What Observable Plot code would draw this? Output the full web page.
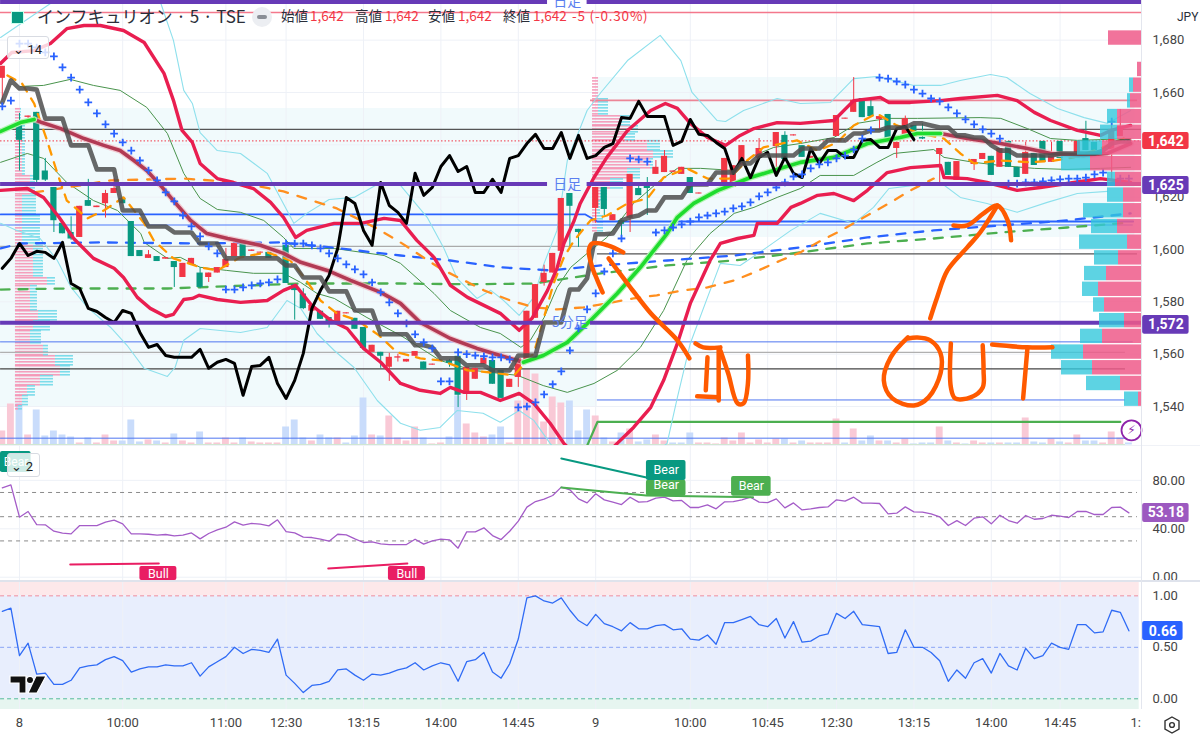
<!DOCTYPE html>
<html><head><meta charset="utf-8">
<script src="https://cdn.jsdelivr.net/npm/d3@7"></script>
<script src="https://cdn.jsdelivr.net/npm/@observablehq/plot@0.6"></script>
<style>
html,body{margin:0;padding:0;background:#fff;width:1200px;height:736px;overflow:hidden}
#wrap{position:relative;width:1200px;height:736px;font-family:"Noto Sans CJK JP",Roboto,sans-serif}
#wrap svg{display:block}
.t{position:absolute;white-space:nowrap;line-height:1}
.badge{position:absolute;background:rgba(255,255,255,.8);border:1px solid #d8dbe2;border-radius:3px;font:13px Roboto;color:#222;box-sizing:border-box;text-align:right;padding:5px 6px 0 0}
</style></head><body><div id="wrap"></div>
<script>
// ---- tick labels
const timeTicks=[0,12,24,31,40,49,58,67,78,87,95,104,113,121,129.8];
const timeLabels=["8","10:00","11:00","12:30","13:15","14:00","14:45","9","10:00","10:45","12:30","13:15","14:00","14:45","1:"];
const priceGrid=[1680,1660,1640,1620,1600,1580,1560,1540];
const priceTicks=[1680,1660,1620,1600,1580,1560,1540];

// ---- candles: [bar, open, close, high, low]
const candles=[[-2,1665.4,1670,1670,1657],[0,1647.8,1641.7,1652,1630],[1,1650.5,1651,1651,1649],[2,1652.4,1626.4,1652.4,1625],[3,1630,1626.5,1634.8,1626],[4,1623.7,1611,1623.7,1606.5],[5,1610,1606],[6,1606.5,1604,1612.5,1603.5],[7,1604.6,1616.5],[8,1618.7,1616.5,1626.8,1616.5],[9,1616,1616.6],[10,1617.5,1621.4,1622.6,1612],[11,1621.4,1623.3,1627,1621.4],[12,1619.5,1617.5,1620,1617.5],[13,1610.7,1597.3],[14,1599.6,1597.3],[15,1596.6,1598,1599.6,1596.6],[16,1597.3,1595.4],[17,1596.3,1596.9],[18,1595.4,1593.1,1595.4,1585.5],[19,1589.3,1594.7],[20,1594.3,1596.6],[21,1591,1585.5,1593,1585],[22,1589.3,1591,1591,1587.4],[23,1591,1593.1],[24,1593.1,1596.2,1600.4,1593.1],[25,1597.3,1602.3],[26,1602.3,1597.3],[27,1599.3,1599.8],[28,1598.6,1599],[29,1598.9,1596.6],[31,1601.5,1587],[32,1586.6,1584.3,1586.6,1573],[33,1583,1577.4,1585,1577],[34,1576.4,1578.6],[35,1576.4,1573.3],[36,1574,1571.8,1574,1570],[37,1572.1,1576.4],[38,1575.4,1575.8],[39,1573.7,1569.5],[40,1570.2,1562.2],[41,1560.7,1563.4],[42,1560.7,1559.2,1560.7,1554.6],[43,1555,1558.8,1560.3,1549.6],[44,1558.5,1559,1560,1557],[45,1557,1558],[46,1559.2,1561],[47,1557,1554],[48,1555.8,1556.2],[50,1557.5,1556.5,1558,1555],[51,1559.2,1544.3,1559.2,1539.6],[52,1545,1555,1555,1542.3],[53,1550.4,1554.6],[54,1556.1,1558.4],[55,1557.6,1548.5],[56,1553.8,1543.1],[57,1547.3,1550.4],[58,1551.1,1558.4,1558.4,1547.3],[59,1556.5,1576.4],[60,1573.7,1586.6],[61,1587.4,1590.9,1594,1586],[62,1591,1598.5],[63,1599.3,1619.5],[64,1621.4,1616.5,1621.4,1600.8],[65,1607.7,1606.5,1607.7,1600.8],[67,1615.7,1623.7,1623.7,1610],[68,1623.7,1615.3,1623.7,1613],[69,1611,1613.3],[70,1611,1609.6,1611,1603.5],[71,1611.9,1628.7,1628.7,1606.5],[72,1623.3,1620.6,1625,1620.6],[73,1625.6,1623.3,1627.5,1613],[74,1628.7,1631.4,1634,1628.7],[75,1629.4,1635.6,1637.8,1629.4],[76,1629.5,1630],[77,1628.7,1631.4],[78,1627.5,1621.4],[79,1621.2,1621.6],[81,1621.2,1621.6],[82,1625.2,1634.8,1634.8,1622.6],[83,1623.7,1632],[84,1632,1639.7],[86,1634.8,1638.6,1642.4,1634.8],[88,1639.3,1644.7,1644.7,1628.3],[89,1643.6,1634.4,1645,1634.4],[90,1643.4,1643.8],[91,1639.7,1635.2],[92,1634,1635.6],[95,1643.2,1651.2],[96,1649.8,1650.2],[97,1652.4,1657,1665.7,1652.4],[98,1657.7,1650.4],[99,1654.6,1650.8,1657.7,1650.8],[100,1649.7,1650.8,1650.8,1646],[101,1651.6,1640.9],[102,1638.6,1640.9,1640.9,1634.8],[103,1642.4,1650,1651,1642.4],[104,1647.4,1644.7,1647.4,1641],[105,1642.8,1642.2,1648,1642],[107,1636.3,1638.6,1638.6,1625.2],[108,1633.3,1628.3],[109,1626.4,1633.6],[111,1632.5,1634.4,1634.4,1630.2],[112,1634.4,1636.7],[113,1635.6,1628.3],[114,1631.4,1638.6],[115,1641.3,1631.4],[116,1631.4,1627.5],[117,1628.7,1637.1,1641,1628.7],[118,1636.7,1632.1],[119,1641.3,1633.3],[120,1633.3,1637.1,1641,1633.3],[121,1641.3,1634.8],[123,1634.8,1641.3],[124,1642.4,1637.8,1649,1637.8],[125,1640.9,1637.8],[127,1638.2,1645.9,1649.7,1626.4],[128,1643.2,1647,1653.5,1643.2],[129,1641.8,1642.2]];

// ---- signed volume from bar -2: positive = up bar, negative = down bar
const volume=[14,41,-41,10,-35,-9,-14,-10,-8,2,-7,2,10,4,-4,-25,-3,5,-4,2,-11,4,2,-13,2,2,7,2,-7,3,2,2,2,-18,-25,-7,4,-10,-7,7,-2,-9,-47,10,-9,29,7,4,18,-7,1,2,-8,-49,21,12,8,-10,-18,2,44,76,71,23,48,42,-44,-14,-35,29,-7,3,-12,16,-3,-5,10,4,-2,-2,-12,2,2,1,7,4,12,2,5,2,6,-6,2,-4,2,2,2,26,-2,16,-4,-9,4,-4,2,6,-1,-2,-2,18,-4,2,-1,4,2,-2,2,-2,-2,27,-3,-2,6,-3,2,10,-4,-4,2,13,7,-2];

// ---- bar-by-bar overlays, from bar -2
const blackLine=[1592.8,1596.6,1602.3,1597.7,1599.3,1598.9,1596.6,1602.7,1587,1585.1,1577.5,1576.3,1574,1572.1,1576.7,1575.6,1568.3,1562.6,1563.7,1559.5,1558.8,1558.8,1558.8,1561.8,1554.6,1556.9,1558,1556.5,1544.3,1555.3,1555.7,1558.8,1548.8,1543.1,1550,1560.3,1577.5,1584.4,1590.1,1600.4,1619.9,1617.6,1607.3,1601.6,1625.6,1616.8,1614.2,1610,1629.1,1620.7,1623.7,1631.7,1635.9,1629.8,1631.7,1621.8,1621.8,1626.8,1621.8,1634.8,1635.9,1640.5,1644,1638.6,1638.6,1644.7,1634.8,1643.6,1634.8,1635.9,1639,1640.5,1650.4,1650.1,1656.6,1650.8,1650.8,1650.8,1639.8,1641.3,1649.7,1644,1643.6,1640.9,1638.6,1629.1,1634.8,1627.5,1635.2,1637.1,1628.3,1635.2,1629.1,1627.5,1638.6,1632.9,1637.8,1637.8,1635.2,1635.2,1641.7,1642,1639,1639,1646.2,1647,1642];
const greyStep=[1656.2,1664.6,1661.5,1661.5,1661.1,1650,1650,1650,1639.8,1639.8,1639.8,1630.6,1630.6,1630.6,1614.9,1614.9,1614.9,1608.8,1608.8,1608.8,1606.5,1606.5,1606.5,1602.3,1602.3,1602.3,1596.6,1596.6,1596.6,1596.6,1596.6,1596.6,1596.6,1593.9,1593.9,1589.3,1589.3,1589.3,1584,1584,1584,1576.7,1576.7,1576.7,1567.6,1567.6,1567.6,1567.6,1563.4,1563.4,1562.6,1558.4,1558.4,1558.4,1555.7,1555.7,1555.7,1553.8,1553.8,1553.8,1559.5,1559.5,1559.5,1572.1,1572.1,1572.1,1584.7,1584.7,1589,1605.8,1605.8,1606.1,1611.1,1612.3,1613,1614.9,1614.9,1619.9,1619.9,1619.9,1624.9,1624.9,1624.9,1629.4,1629.4,1629.4,1632.9,1632.9,1635.9,1635.9,1635.9,1635.9,1635.9,1638.6,1638.6,1638.6,1641.7,1641.7,1641.7,1644.3,1644.3,1645.5,1645.5,1646.6,1646.6,1646.6,1648.2,1648.2,1647.4,1646.6,1646.6,1643.6,1643.6,1642.8,1642.8,1639.8,1637.8,1637.8,1635.9,1635.9,1635.9,1635.9,1635.9,1636.7,1636.7,1636.7,1636.7,1636.7,1637.8,1640.5,1641.3,1641.3];
const sar=[1654.7,1656.9,1678.7,1678.7,1677.2,1675.3,1673.8,1669.6,1665.7,1661.1,1656.2,1652,1647.8,1644.3,1640.9,1637.8,1634,1630.2,1626.4,1621.8,1618.4,1613,1608.8,1605,1601.2,1598.5,1584.7,1584.7,1585.5,1586.3,1587,1587.4,1588.6,1602.3,1602.3,1602.3,1601.6,1600.4,1598.5,1596.6,1594.3,1592.4,1590.5,1587.4,1583.6,1579.8,1575.6,1571.8,1567.6,1564.5,1562.2,1549.6,1549.6,1560.7,1560,1559.5,1559.2,1558.8,1558.8,1558,1539.7,1540,1541.6,1544.6,1548.5,1553.4,1561.4,1569.8,1577.1,1583.2,1591.6,1598.5,1604.2,1634.8,1634.4,1633.6,1606.5,1607.3,1608.4,1609.6,1610.7,1612.3,1613,1613.8,1614.5,1615.7,1616.5,1618,1620.3,1621.8,1623.7,1625.6,1627.9,1628.7,1631,1632.5,1633.3,1634.8,1635.9,1638.2,1642.4,1645.5,1665.7,1665.3,1664.2,1663,1661.1,1659.6,1657.7,1656.6,1654.3,1652,1649.7,1647.8,1645.9,1644.3,1642.4,1625.2,1625.2,1625.6,1625.6,1626,1626.4,1626.8,1627.1,1627.1,1627.5,1628.7,1629.4,1648.9,1627.1,1627.1];
const rsi=[73.8,76.3,49.6,54.3,43.5,43.3,38,36.4,35.8,42.7,42.7,42.7,45.5,47.1,44.1,35.8,35.8,35.5,34.7,35.3,34.2,34.7,36.6,31.7,36.1,39.1,41.3,45.7,43,44.4,43.8,42.4,47.4,37.7,36.6,33.1,32.8,31.4,29.8,35.5,35,31.7,28.7,29.2,27.5,27,27,27,31.4,27.3,30,31.4,30.9,24,37.5,37.5,40.8,34.4,31.1,38,46.3,57.9,62.5,64.5,67.5,74.4,72.2,64.7,61.4,68.9,63.9,62,60,66.1,62,62.5,65.3,66.1,63,63.4,57.6,57.6,59.8,56.5,62.3,62.5,63.9,66.1,62,61.7,64.7,57.3,61.4,55.6,56.5,57.6,58.1,63.9,62.8,66.1,61.2,61.2,60.9,52.3,52.9,58.1,54,53.7,52.3,49.9,42.7,46.8,42.7,48.8,49.9,44.1,51.2,46.8,44.6,51,47.9,48.5,51.2,50.4,49.3,54.3,54.3,51.8,51.8,57.6,57.9,53.18];
const stoch=[.85,.88,.42,.54,.24,.25,.14,.14,.18,.30,.32,.33,.38,.41,.37,.26,.29,.31,.31,.33,.32,.32,.35,.22,.31,.36,.41,.50,.44,.48,.47,.45,.58,.23,.15,.06,.13,.14,.17,.28,.29,.23,.18,.24,.23,.25,.28,.30,.35,.28,.32,.35,.33,.17,.36,.38,.45,.26,.20,.34,.58,.98,1,.95,.93,.98,.86,.76,.71,.82,.73,.70,.66,.74,.68,.68,.71,.72,.67,.68,.58,.57,.62,.53,.74,.74,.77,.80,.72,.70,.78,.59,.75,.55,.56,.61,.63,.83,.78,.85,.72,.71,.70,.44,.45,.67,.50,.50,.45,.37,.17,.28,.20,.35,.39,.25,.44,.32,.28,.49,.39,.42,.54,.50,.48,.72,.72,.64,.65,.86,.84,.66];

// ---- smooth overlays: [bar, price]
const bbUpper=[[-2.2,1671.1],[-.9,1675.3],[1.7,1676],[3.6,1678.7],[5.5,1684.4],[7.5,1685.6],[9.4,1685.6],[12.1,1683.7],[14.5,1679.1],[16.8,1667.3],[17.9,1657],[18.9,1645.5],[20.1,1640.9],[21,1632.9],[23,1627.1],[24.9,1625.6],[27.2,1623.3],[29.2,1618],[30.7,1612.3],[32.1,1604.6],[33.4,1607.3],[36.6,1610],[39.7,1610],[42.4,1611.9],[44.3,1611.1],[46.2,1603.5],[48.2,1597],[49.3,1590.9],[50.1,1586.3],[52.1,1581.7],[55.9,1575.6],[58.1,1569.1],[59.6,1573.7],[61.4,1584.4],[62.5,1592.8],[63.3,1602.3],[64.5,1611.1],[65.2,1617.6],[66.8,1627.5],[68.3,1635.2],[70.7,1645.5],[73.4,1653.1],[75.1,1655.8],[76.5,1653.9],[78,1648.2],[80,1642.8],[82.1,1639.8],[83.8,1643.6],[85.4,1646.2],[88.1,1648.5],[90.8,1648.2],[94.7,1649.3],[97,1656.9],[100.1,1658.1],[101.1,1656.2],[103.6,1656.2],[107.1,1656.9],[109.4,1657.7],[113.7,1658.9],[116,1656.9],[118,1652.4],[119.9,1649.3],[123,1645.5],[125.7,1643.6],[126.9,1645.5],[129.2,1647.4]];
const bbLower=[[-2.2,1622.6],[.9,1623.3],[2.8,1619.9],[4.6,1612.3],[6.3,1604.2],[8.6,1596.6],[11,1592.8],[12.1,1589.3],[13.7,1581.7],[15.2,1577.5],[17,1574.4],[17.9,1575.2],[19.1,1580.9],[20.1,1581.3],[20.9,1582.5],[23,1580.9],[25.7,1579.8],[28.8,1580.5],[30.7,1584.4],[32.1,1586.3],[34,1578.6],[36.2,1572.9],[38.1,1569.8],[40,1562.2],[42,1556.9],[44.3,1548.8],[46.6,1546.2],[48.9,1545],[50.1,1547.3],[51.7,1545.4],[53.6,1545.4],[55.9,1542.3],[58.1,1545],[59.8,1541.2],[61.7,1533.6],[63.3,1525.9],[66.4,1515.6],[69.5,1525.9],[71.4,1532],[73.4,1539.7],[74.9,1550],[76.5,1564.1],[78,1579.4],[80.3,1595.8],[81.5,1602.3],[83.5,1604.2],[85.4,1605.4],[85.8,1610],[88.1,1610],[89.7,1616.1],[90.8,1617.6],[92.8,1620.7],[94.7,1621.4],[97,1618.7],[98.6,1622.6],[100.9,1629.4],[103.6,1631.3],[107.1,1632.1],[107.5,1627.5],[110.2,1627.1],[112.5,1625.6],[116,1622.6],[118.7,1623.7],[122.6,1625.6],[125.7,1627.1],[129.2,1625.6]];
const thinGreenUpper=[[.1,1662.3],[2.8,1662.7],[5.9,1665],[8.6,1662.7],[11.7,1660.8],[14.8,1654.3],[17.2,1644.3],[19.1,1629.1],[21,1619.5],[23,1615.3],[25.7,1614.2],[28.4,1611.1],[30.7,1604.6],[31.9,1600.4],[36.6,1600.4],[42.4,1597.7],[44.3,1594.7],[48.2,1583.2],[50.1,1576.7],[53.6,1570.2],[55.9,1567.9],[58.3,1562.6],[59.4,1565.3],[61,1574],[62.5,1585.5],[64.1,1593.2],[66.4,1599.6],[68.3,1604.6],[71.4,1617.6],[74.5,1626.4],[76.5,1631],[79.2,1631],[83.1,1630.2],[85.4,1635.9],[87.7,1639],[90.8,1640.5],[94.7,1642.8],[97.4,1648.2],[100.9,1650.1],[104.4,1650.1],[111.7,1650.4],[114.1,1650.1],[117.2,1646.2],[119.9,1642.4],[123,1641.7],[125.7,1642],[129.2,1642.4]];
const thinGreenLower=[[-2.2,1633.3],[.9,1636.7],[2.8,1634.8],[5.5,1625.6],[8.6,1618.7],[11.4,1614.9],[14.1,1606.1],[14.5,1602.7],[17.2,1596.6],[18.7,1597],[21,1593.2],[24.1,1592],[27.2,1590.9],[30.7,1590.9],[32.7,1587.4],[34.6,1583.2],[36.6,1581.3],[40.4,1574],[44.3,1567.2],[48.9,1557.6],[52.8,1553.8],[57.9,1551.9],[60.9,1548],[63.7,1545.4],[66.8,1548.8],[69.5,1553.8],[72.2,1562.6],[74.9,1576.7],[77.6,1595.8],[80.3,1606.1],[83.1,1613.8],[85.4,1616.1],[88.1,1619.9],[90.8,1623.3],[93.1,1628.3],[97,1628.3],[99.7,1633.3],[101.7,1636.7],[106.3,1638.2],[107.5,1635.2],[111,1633.3],[114.1,1632.1],[118,1631],[121.8,1630.6],[125.7,1631],[129.2,1631.4]];
const cyanUpper=[[-2.2,1681],[3.6,1694],[16.4,1694.4],[17.9,1679.9],[19.1,1660.8],[20.1,1655.8],[21,1644.7],[23,1637.8],[25.7,1636.7],[28.8,1629.1],[31.9,1610],[33.4,1613.8],[36,1619.1],[38.9,1619.9],[42,1625.6],[44.3,1624.5],[47.4,1612.3],[49.3,1600.8],[50.9,1588.9],[53.2,1581.3],[54.8,1584.4],[56.3,1580.5],[58.1,1574.8],[59.8,1581.7],[61,1594.7],[62.5,1607.3],[63.7,1634],[66,1653.1],[67.6,1660],[70.7,1672.2],[74.5,1681.8],[76.9,1672.2],[78.2,1660],[81.1,1649.3],[82.1,1648.9],[84.2,1653.1],[88.1,1657.7],[90.8,1655.8],[94.3,1656.2],[97,1665.3],[99.7,1666.1],[104,1662.7],[107.1,1662.7],[109.4,1664.6],[112.9,1666.9],[114.8,1665.7],[117.5,1659.6],[120.7,1653.9],[123.8,1650.4],[126.5,1648.2],[129.2,1653.1]];
const cyanLower=[[-2.2,1610],[-.3,1607.3],[2.4,1604.2],[4.4,1595.8],[6,1585.5],[7.9,1577.9],[10.6,1570.2],[12.5,1563.4],[14.5,1554.6],[17.2,1551.5],[18.1,1555],[19.1,1565.3],[21,1569.8],[25.7,1568.3],[28.8,1570.2],[31.1,1580.5],[32.7,1577.5],[34.6,1567.9],[36.6,1561.4],[38.9,1554.9],[41.6,1542.3],[44.3,1533.6],[46.6,1530.9],[48.9,1532],[50.9,1538.5],[53.9,1537.4],[55.9,1534],[58.1,1538.5],[59.8,1534.7],[61.7,1525.9],[67.2,1504],[75.3,1525.9],[76.5,1543.5],[78,1564.1],[80,1581.7],[81.5,1594.7],[83.8,1593.9],[86.9,1600.8],[89.7,1607.3],[93.1,1613.8],[97,1610],[99.3,1616.1],[101.1,1623.3],[104,1624.5],[107.1,1625.6],[109.4,1619.9],[112.5,1617.6],[116,1614.2],[119.5,1618],[123,1621.4],[126.5,1622.2]];
const orangeSlow=[[1.7,1621.8],[5.5,1623.7],[10.6,1626.4],[19.1,1627.1],[25.7,1625.6],[30.7,1622.2],[36.9,1615.7],[41.6,1608],[44.3,1602.7],[48.9,1592.8],[54,1584.4],[57.1,1580.5],[59.8,1577.9],[62.5,1577.1],[65.6,1577.9],[68.3,1579.4],[71.4,1581.3],[74.1,1582.5],[77.2,1584.4],[80,1585.5],[83.1,1588.2],[85.4,1591.2],[88.5,1595.8],[90.8,1598.9],[92.8,1602.7],[95.1,1606.5],[98.2,1612.3],[101.3,1618],[103.6,1622.6],[106.3,1627.1]];
const orangeFast=[[-1.4,1666.5],[.3,1663.4],[1.7,1655.8],[3.2,1641.7],[4.4,1629.1],[5.5,1618.7],[7.9,1611.9],[9.8,1614.9],[12.1,1619.9],[14.5,1610],[15.6,1603.5],[17.9,1596.6],[21,1593.2],[23,1592],[25.7,1597],[28.8,1598.9],[31.5,1595.8],[33.1,1589.3],[35,1580.5],[36.9,1575.6],[39.3,1572.9],[41.8,1567.2],[43.9,1560.7],[46.6,1558.4],[49,1557.6],[52.1,1553.8],[54.8,1553],[57.5,1551.9],[59.8,1560.3],[62.1,1587],[63.3,1597],[64.5,1603.5],[66.4,1611.1],[68.3,1613],[70.7,1617.6],[73,1619.5],[74.9,1627.5],[77.6,1631],[80,1627.1],[82.5,1627.1],[84.6,1634],[86.5,1639],[90.4,1641.7],[92.8,1637.8],[95.1,1640.9],[97,1647.4],[99.7,1652],[102,1647.4],[104.8,1644.3],[107.5,1642.4],[109.4,1636.7],[111,1632.9],[114.1,1634],[117.5,1633.3],[120.3,1634],[122.6,1635.2],[125.7,1638.6],[128.4,1642.4]];
const blueDashed=[[-2.2,1600.4],[.1,1602.3],[9.4,1602.7],[21,1602.3],[30.3,1602.7],[36.2,1600.8],[44.3,1597.7],[50.1,1595.8],[55.9,1593.2],[61.7,1592],[67.6,1593.9],[75.3,1595.8],[83.1,1597.7],[90.8,1600.8],[98.6,1604.6],[106.3,1607.3],[114.1,1609.2],[121.8,1611.1],[129.2,1613.8]];
const greenDashed=[[-2.2,1584.7],[5.5,1585.1],[17.2,1585.1],[32.7,1587],[44.3,1587],[52.1,1586.7],[59.8,1587],[67.6,1590.9],[75.3,1593.9],[83.1,1595.8],[90.8,1598.9],[98.6,1602.3],[106.3,1604.2],[114.1,1606.5],[121.8,1608.4],[129.2,1610.3]];
const maGreen1=[[-2.2,1645.1],[.1,1648.5],[1.7,1649.7]];
const maRed1=[[1.7,1649.7],[2.6,1648.5],[4.8,1646.2],[7.5,1642.4],[9.8,1639.8],[11.7,1637.8],[13.3,1634],[14.8,1630.2],[16.4,1624.5],[17.9,1618.7],[19.9,1611.1],[21.8,1606.1],[24.2,1604.2],[28,1601.6],[30.7,1598.5],[32.7,1595.1],[35.8,1592],[38.5,1588.2],[42,1583.6],[44.3,1579.4],[46.6,1572.1],[50.1,1566],[53.2,1562.2],[55.9,1559.5],[58.6,1556.9]];
const maGreen2=[[58.6,1556.9],[60.9,1559.5],[63.7,1564.5],[66.4,1572.9],[69.5,1583.2],[72.2,1593.2],[75.3,1606.1],[76.5,1612.3],[78.4,1617.6],[81.2,1622.6],[85,1627.5],[88.8,1631.3],[90.8,1633.3],[94.7,1635.2],[98.6,1640.5],[102.4,1642.8],[104.4,1644.3],[107.1,1644.3]];
const maRed2=[[107.1,1644.3],[110.2,1642.4],[114.1,1640.5],[117.2,1638.6],[119.9,1636.7],[123.7,1635.9],[126.5,1636.7],[129.2,1640.5]];

// ---- level lines (price)
const levelPurpleA=1625, levelPurpleB=1572, levelPurpleTop=1694.6;
const levelRedTop=1690.6, levelRedDotted=1641.5, levelRed2=1657;
const levelsDark=[1645.9], levelsDarkRight=[1598.3], levelBlack=1554.4, levelGrey=[1601.2], levelGreyLong=1560.7;
const levelBlue1=[[-2.2,1613.4],[65.8,1613.4],[67.2,1610.7],[129.5,1610.7]];
const levelBlueLight=1609.4, levelThinBlue=[1564.7,1527.9], levelThinBlueRight=1542.5, levelGreenStep=[[66,1525],[67.2,1534.1],[128,1534.1]];

// ---- volume profiles: [top price, bottom price, up volume, down volume]
const profileLeft=[[1653.9,1647.4,5,1],[1647.4,1628.3,7,3],[1628.3,1620.7,15,5],[1620.7,1613,7,14],[1613,1601.6,7,18],[1601.6,1589.3,18,10],[1589.3,1586.3,32,8],[1586.3,1576.7,15,7],[1576.7,1572.9,23,19],[1572.9,1569.1,18,17],[1569.1,1563.4,15,11],[1563.4,1559.5,28,5],[1559.5,1555.7,40,18],[1555.7,1551.9,45,10],[1551.9,1548,25,13],[1548,1544.3,12,8],[1544.3,1540.4,7,6],[1540.4,1538.5,3,4]];
const profileMid=[[1665.7,1657.7,6,0],[1657.7,1651.2,6,10],[1651.2,1647.4,28,10],[1647.4,1644.3,38,8],[1644.3,1641.7,33,10],[1641.7,1637.8,55,13],[1637.8,1634.8,61,20],[1634.8,1631,58,3],[1631,1627.1,35,13],[1627.1,1622.6,18,13],[1622.6,1618.7,8,7],[1618.7,1613,5,3],[1613,1606.5,5,6]];
const sessionPrices=[1680.8,1668.8,1662.8,1656.8,1650.8,1644.8,1638.8,1632.8,1626.8,1620.8,1614.8,1608.8,1602.8,1596.8,1590.8,1584.8,1578.8,1572.8,1566.8,1560.8,1554.8,1548.8,1542.8];
const sessionUp=[33,4,8,11,24,24,39,51,26,18,18,24,14,23,35,43,37,17,39,58,49,21,3];
const sessionDown=[0,0,4,3,10,17,25,29,8,16,40,26,48,24,22,16,11,25,22,32,31,34,14];

// ---- hand-drawn annotations [bar, price]
const inkStrokes=[
[[70.2,1598.9],[68.4,1601.6],[66.6,1602.3],[66.2,1599.6],[66.6,1593.2],[67.2,1588.2],[67.8,1583.6]],
[[68.5,1596.6],[70.7,1587],[73.4,1575.6],[76.5,1565.3],[77.9,1558.4]],
[[80,1558.8],[79.8,1546.2]],
[[78.6,1564.1],[79.5,1562.6],[81.5,1562.6]],
[[81.3,1562],[81.3,1542.3]],
[[78.8,1543.9],[81.3,1543.5]],
[[81.5,1561.4],[82.4,1552.7],[83.5,1541.2],[84.2,1541.2],[84.7,1548.8],[84.7,1559.5]],
[[103.3,1566.4],[101.3,1558.8],[100.5,1550],[101.5,1543.1],[104,1540.4],[105.7,1543.5],[107.1,1552.7],[107.1,1560.3],[105.9,1565.3],[104.4,1566.4],[103.3,1566]],
[[108.3,1564.1],[108.3,1547.3],[108.8,1543.1],[110.6,1543.5],[112,1547.3],[112.1,1553.8],[112,1563.4]],
[[113.1,1563.7],[117.2,1562.6],[120.1,1562.6]],
[[117.2,1562.2],[116.7,1543.1]],
[[105.9,1573.7],[106.7,1581.7],[107.9,1592],[110.2,1600.8],[111.7,1606.5],[113.7,1616.8]],
[[108.6,1609.2],[110.2,1609.2],[112.1,1613.8],[113.7,1616.8],[114.9,1611.1],[115.3,1603.5]]
];

// ---- indicator annotations
const bullLines=[[[5.9,10.5],[16.2,11.3]],[[35.9,7.2],[45.1,11.3]]];
const bullLabels=[[14,18.3],[42.9,47.2]];
const bearTeal=[[63,98.1],[72.9,82.4]];
const bearGreen=[[63,74.1],[72.9,67.5],[85.3,66.1]];

// ---- shared geometry
const W=1200, R=59, xDomain=[-2.209,130.465];
const barsFrom=(a,s=-2)=>a.map((v,k)=>[k+s,v]);
const X=d=>d[0], Y=d=>d[1];
const base={width:W,marginLeft:0,marginRight:R,marginTop:0,x:{domain:xDomain,axis:null},
  style:{fontFamily:"Roboto,sans-serif",fontSize:"13px",background:"#fff"}};
const line=(data,o)=>Plot.line(data,{x:X,y:Y,clip:true,strokeLinejoin:"round",...o});
const grid=Plot.ruleX(timeTicks.slice(0,-1),{stroke:"#eef1f7",strokeWidth:1});
const rightEnd=130.465;
const tag=(y1,y2,fill,txt,x2=136)=>[
  Plot.rect([0],{x1:130.6,x2:x2,y1:y1,y2:y2,fill:fill,rx:2}),
  Plot.text([txt],{x:(130.6+x2)/2,y:(y1+y2)/2,text:d=>d,fill:"#fff",fontWeight:700,fontSize:14})
];
const rows=b=>{const out=[];for(const [t,bt,u,dn] of b){for(let p=t;p>bt;p-=1.15)out.push({p,u,dn});}return out;};
const profile=(b,startBar)=>{const r=rows(b);return [
  Plot.rect(r,{x1:startBar,x2:d=>startBar+d.u/8.6,y1:d=>d.p,y2:d=>d.p-.62,fill:"#f48fb1",fillOpacity:.85}),
  Plot.rect(r,{x1:d=>startBar+d.u/8.6,x2:d=>startBar+(d.u+d.dn)/8.6,y1:d=>d.p,y2:d=>d.p-.62,fill:"#6fd8e8",fillOpacity:.9})
];};
const sess=sessionPrices.map((p,k)=>({p,u:sessionUp[k],dn:sessionDown[k]}));
const volRows=barsFrom(volume);
const candleRows=candles.map(([i,o,c,h,l])=>({i,o,c,h:h??Math.max(o,c),l:l??Math.min(o,c),up:c>=o}));
const upC="#f23645", dnC="#089981";

// ---- main price panel
const main=Plot.plot({...base,height:445,marginBottom:0,
  y:{domain:[1525.1,1695.15],range:[445,0]},
  marks:[
    Plot.rect([0],{x1:-2.209,x2:67.2,y1:1653.9,y2:1539.6,fill:"#f1fafc"}),
    Plot.rect([0],{x1:67.2,x2:129.7,y1:1665.7,y2:1604.6,fill:"#f1fafc"}),
    grid,
    Plot.ruleY(priceGrid,{stroke:"#eef1f7"}),
    // volume
    Plot.rect(volRows,{x1:d=>d[0]-.4,x2:d=>d[0]+.4,y1:1525.3,y2:d=>1525.3+Math.abs(d[1])*.382,fill:d=>d[1]>=0?"#f9c9d6":"#c9dcfb"}),
    Plot.ruleY([1525.5],{stroke:"#cfe6d0",x1:-2.2,x2:128.6}),
    // left and middle session profiles
    ...profile(profileLeft,-.47),
    ...profile(profileMid,66.63),
    // levels
    Plot.ruleY([levelRedTop],{stroke:"#f4788c",strokeWidth:1.5}),
    Plot.ruleY(levelsDark,{stroke:"#555",strokeWidth:1.2}),
    Plot.ruleY([levelRedDotted],{stroke:"#f23645",strokeDasharray:"1.5,2"}),
    Plot.ruleY([levelRed2],{x1:66.4,x2:130,stroke:"#ec8596",strokeWidth:1.6}),
    Plot.ruleY(levelGrey,{x1:-2.2,x2:66.4,stroke:"#aaa",strokeWidth:1.2}),
    Plot.ruleY(levelsDarkRight,{x1:67.2,x2:130,stroke:"#555",strokeWidth:1.2}),
    Plot.ruleY([levelGreyLong],{x1:-2.2,x2:128.6,stroke:"#b0b0b0",strokeWidth:1.4}),
    Plot.ruleY([levelBlack],{x1:-2.2,x2:128.6,stroke:"#444",strokeWidth:1.3}),
    Plot.ruleY(levelThinBlue,{x1:-2.2,x2:129.5,stroke:"#4f76f0",strokeWidth:1}),
    Plot.ruleY([levelThinBlueRight],{x1:67.2,x2:128.6,stroke:"#4f76f0",strokeWidth:1}),
    Plot.ruleY([levelBlueLight],{x1:-2.2,x2:129.5,stroke:"#82a3fb",strokeWidth:1.5}),
    line(levelBlue1,{stroke:"#2962ff",strokeWidth:1.8}),
    line(levelGreenStep,{stroke:"#4caf50",strokeWidth:2.2}),
    // thin bands
    line(cyanUpper,{stroke:"#8ee0ec",strokeWidth:1.1}),
    line(cyanLower,{stroke:"#8ee0ec",strokeWidth:1.1}),
    line(thinGreenUpper,{stroke:"#4a944d",strokeWidth:1}),
    line(thinGreenLower,{stroke:"#4a944d",strokeWidth:1}),
    // long dashed averages
    line(blueDashed,{stroke:"#2962ff",strokeWidth:2.3,strokeDasharray:"9,9"}),
    line(greenDashed,{stroke:"#4caf50",strokeWidth:2.3,strokeDasharray:"9,9"}),
    line(orangeSlow,{stroke:"#ff8f1f",strokeWidth:2.3,strokeDasharray:"9,10"}),
    // candles
    Plot.ruleX(candleRows,{x:"i",y1:"l",y2:"h",stroke:d=>d.up?upC:dnC,strokeWidth:1,clip:true}),
    Plot.rect(candleRows,{x1:d=>d.i-.36,x2:d=>d.i+.36,y1:"o",y2:"c",fill:d=>d.up?upC:dnC,clip:true}),
    line(orangeFast,{stroke:"#ff9800",strokeWidth:2.3,strokeDasharray:"9,8"}),
    // bands
    line(bbUpper,{stroke:"#e91e50",strokeWidth:3.4}),
    line(bbLower,{stroke:"#e91e50",strokeWidth:3.4}),
    // midline
    line(maRed1,{stroke:"#f2b6c0",strokeWidth:6,strokeOpacity:.7}),
    line(maRed2,{stroke:"#f2b6c0",strokeWidth:6,strokeOpacity:.7}),
    line(maRed1,{stroke:"#b23a54",strokeWidth:3.6}),
    line(maRed2,{stroke:"#b23a54",strokeWidth:3.6}),
    line(maGreen1,{stroke:"#b5f5b5",strokeWidth:6}),
    line(maGreen2,{stroke:"#b5f5b5",strokeWidth:6}),
    line(maGreen1,{stroke:"#1fdc2e",strokeWidth:3.6}),
    line(maGreen2,{stroke:"#1fdc2e",strokeWidth:3.6}),
    // overlays
    line(barsFrom(blackLine),{stroke:"#000",strokeWidth:3}),
    line(barsFrom(greyStep),{stroke:"#4d4d4d",strokeWidth:4.6,strokeOpacity:.85}),
    Plot.dot(barsFrom(sar),{x:X,y:Y,symbol:"plus",r:2.6,stroke:"#2962ff",strokeWidth:1.8,clip:true}),
    // heavy purple levels
    Plot.ruleY([levelPurpleTop],{x1:-2.2,x2:61.4,stroke:"#673ab7",strokeWidth:4}),
    Plot.ruleY([levelPurpleTop],{x1:66,x2:130.465,stroke:"#673ab7",strokeWidth:4}),
    Plot.ruleY([levelPurpleA],{x1:-2.2,x2:61.4,stroke:"#673ab7",strokeWidth:4}),
    Plot.ruleY([levelPurpleA],{x1:66,x2:130.465,stroke:"#673ab7",strokeWidth:4}),
    Plot.ruleY([levelPurpleB],{x1:-2.2,x2:60.9,stroke:"#673ab7",strokeWidth:4}),
    Plot.ruleY([levelPurpleB],{x1:66.4,x2:130.465,stroke:"#673ab7",strokeWidth:4}),
    Plot.text(["日足"],{x:63.7,y:levelPurpleA,text:d=>d,fill:"#5b7ff0",fontSize:14,fontFamily:"Noto Sans CJK JP"}),
    Plot.text(["日足"],{x:63.7,y:levelPurpleTop,text:d=>d,fill:"#5b7ff0",fontSize:14,fontFamily:"Noto Sans CJK JP"}),
    Plot.text(["5分足"],{x:64,y:levelPurpleB,text:d=>d,fill:"#5b7ff0",fontSize:14,fontFamily:"Noto Sans CJK JP"}),
    // right-hand session profile
    Plot.rect(sess,{x1:d=>rightEnd-(d.u+d.dn)/8.6,x2:d=>rightEnd-d.u/8.6,y1:d=>d.p-2.75,y2:d=>d.p+2.75,fill:"#35c8dc",fillOpacity:.8}),
    Plot.rect(sess,{x1:d=>rightEnd-d.u/8.6,x2:rightEnd,y1:d=>d.p-2.75,y2:d=>d.p+2.75,fill:"#ee5a8a",fillOpacity:.85}),
    // ink
    ...inkStrokes.map(s=>Plot.line(s,{x:X,y:Y,stroke:"#ff5a00",strokeWidth:4.5,curve:"catmull-rom",strokeLinecap:"round",strokeLinejoin:"round",clip:true})),
    Plot.dot([[129.3,1530.9]],{x:X,y:Y,r:10,fill:"#fff",stroke:"#8e24aa",strokeWidth:1.8}),
    Plot.text([[129.3,1530.9]],{x:X,y:Y,text:()=>"⚡",fill:"#8e24aa",fontSize:12,fontFamily:"DejaVu Sans"}),
    // axis + tags
    Plot.axisY({anchor:"right",ticks:priceTicks,tickSize:0,tickPadding:11,tickFormat:d3.format(","),label:null,color:"#444",fontSize:13}),
    ...tag(1644.7,1638.2,"#f23645","1,642"),
    ...tag(1627.9,1621,"#673ab7","1,625"),
    ...tag(1574.8,1567.6,"#673ab7","1,572")
  ]});

// ---- RSI panel
const rsiPanel=Plot.plot({...base,height:135,marginBottom:0,
  y:{domain:[-2.7,108.8],range:[135,0]},
  marks:[
    grid,
    Plot.ruleY([80,40,0],{stroke:"#eef1f7"}),
    Plot.ruleY([70,50,30],{x1:-2.2,x2:130,stroke:"#8a8a8a",strokeDasharray:"4,4"}),
    line(barsFrom(rsi),{stroke:"#a45cc8",strokeWidth:1.3}),
    line(bearTeal,{stroke:"#089981",strokeWidth:2}),
    line(bearGreen,{stroke:"#4caf50",strokeWidth:2}),
    ...bullLines.map(l=>line(l,{stroke:"#e91e63",strokeWidth:2})),
    Plot.rect([0],{x1:-2.21,x2:1.35,y1:86.5,y2:103.9,fill:"#089981",rx:2}),
    Plot.text(["Bear"],{x:-.4,y:95,text:d=>d,fill:"#fff",fontSize:12}),
    Plot.rect([0],{x1:72.9,x2:77.5,y1:66.9,y2:80,fill:"#4caf50",rx:2}),
    Plot.text(["Bear"],{x:75.2,y:76.5,text:d=>d,fill:"#fff",fontSize:12.5}),
    Plot.rect([0],{x1:72.9,x2:77.5,y1:79.9,y2:96.4,fill:"#089981",rx:2}),
    Plot.text(["Bear"],{x:75.2,y:88.3,text:d=>d,fill:"#fff",fontSize:12.5}),
    Plot.rect([0],{x1:82.8,x2:87.4,y1:66.9,y2:83.2,fill:"#4caf50",rx:2}),
    Plot.text(["Bear"],{x:85.1,y:75,text:d=>d,fill:"#fff",fontSize:12.5}),
    ...bullLabels.flatMap(([a,b])=>[
      Plot.rect([0],{x1:a,x2:b,y1:-2.7,y2:8.8,fill:"#e91e63",rx:2}),
      Plot.text(["Bull"],{x:(a+b)/2,y:2.8,text:d=>d,fill:"#fff",fontSize:12.5})
    ]),
    Plot.axisY({anchor:"right",ticks:[80,40,0],tickSize:0,tickPadding:11,tickFormat:d3.format(".2f"),label:null,color:"#444",fontSize:13}),
    ...tag(60.9,45.2,"#9c59c0","53.18")
  ]});

// ---- stochastic panel
const tickText=d=>timeLabels[timeTicks.indexOf(d)];
const stochPanel=Plot.plot({...base,height:156,marginBottom:27,
  y:{domain:[-.104,1.149],range:[129,0]},
  marks:[
    Plot.rect([0],{x1:-2.209,x2:130.2,y1:1,y2:1.149,fill:"#fde8ea"}),
    Plot.rect([0],{x1:-2.209,x2:130.2,y1:0,y2:1,fill:"#e8eefd"}),
    Plot.rect([0],{x1:-2.209,x2:130.2,y1:-.104,y2:0,fill:"#e6f5f0"}),
    grid,
    Plot.ruleY([1],{x1:-2.2,x2:130.2,stroke:"#f28b9a",strokeDasharray:"4,3"}),
    Plot.ruleY([.5],{x1:-2.2,x2:130.2,stroke:"#8aa5f5",strokeDasharray:"4,3"}),
    Plot.ruleY([0],{x1:-2.2,x2:130.2,stroke:"#55b89e",strokeDasharray:"4,3"}),
    line(barsFrom(stoch),{stroke:"#2f6bf5",strokeWidth:1.3}),
    Plot.axisX({anchor:"bottom",ticks:timeTicks,tickSize:0,tickPadding:8,tickFormat:tickText,label:null,color:"#444",fontSize:13}),
    Plot.axisY({anchor:"right",ticks:[1,.5,0],tickSize:0,tickPadding:11,tickFormat:d3.format(".2f"),label:null,color:"#444",fontSize:13}),
    ...tag(.75,.566,"#2962ff","0.66",135.3)
  ]});

const wrap=document.getElementById("wrap");
wrap.append(main,rsiPanel,stochPanel);

// ---- header and chrome
const add=(html)=>{const d=document.createElement("div");d.innerHTML=html;while(d.firstChild)wrap.append(d.firstChild);};
const headerItems=[["始値",281],["1,642",310,1],["高値",355],["1,642",385,1],["安値",428],["1,642",458,1],["終値",503],["1,642",533,1]];
add(`<div class="t" style="left:37px;top:7px;font-size:17px;color:#2a2e39">インフキュリオン · 5 · TSE</div>
<div style="position:absolute;left:11px;top:11px;width:11px;height:11px;background:#089981;border:1px solid #cfe"></div>
<div style="position:absolute;left:252px;top:7px;width:20px;height:20px;border-radius:10px;background:#eceef2"></div>
<div style="position:absolute;left:257px;top:15px;width:10px;height:4px;border-radius:2px;background:#8a8e96"></div>
<div class="t" style="left:1177px;top:10px;font:12px Roboto;color:#2a2e39">JPY</div>
<div class="t" style="left:572px;top:9px;font-size:13.5px;letter-spacing:.8px;color:#f23645">-5 (-0.30%)</div>
<div class="badge" style="left:7px;top:36px;width:42px;height:23px">⌄ 14</div>
<div class="badge" style="left:7px;top:453px;width:33px;height:24px">⌄ 2</div>
<div style="position:absolute;left:0;top:580px;width:1200px;height:1.5px;background:#dfe3ec"></div>
<div style="position:absolute;left:0;top:444.5px;width:1200px;height:1px;background:#f0f2f7"></div>
<div style="position:absolute;left:1141px;top:0;width:1px;height:709px;background:#e3e6ee"></div>
<svg style="position:absolute;left:9px;top:674px" width="38" height="21" viewBox="0 0 38 21"><g fill="#111" stroke="#fff" stroke-width="1.2"><path d="M1 2H17V19H10V9H1Z"/><circle cx="21" cy="6" r="3.6"/><path d="M27 2H37L28 19H19Z"/></g></svg>
<svg style="position:absolute;left:1162px;top:715px" width="20" height="20" viewBox="0 0 20 20"><path d="M10 2L17 6V14L10 18L3 14V6Z" fill="none" stroke="#333" stroke-width="1.4"/><circle cx="10" cy="10" r="2.4" fill="none" stroke="#333" stroke-width="1.4"/></svg>`);
headerItems.forEach(([s,x,red])=>add(`<div class="t" style="left:${x}px;top:9px;font-size:13.5px;color:${red?"#f23645":"#2a2e39"}">${s}</div>`));
</script></body></html>
